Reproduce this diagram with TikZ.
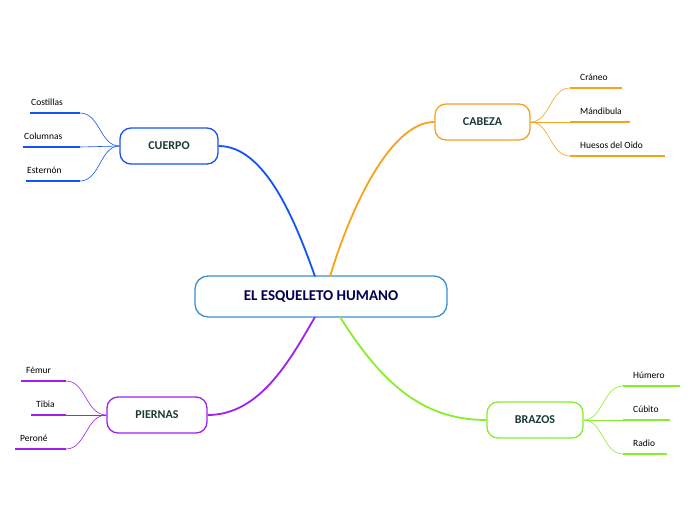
\documentclass[tikz,border=0pt]{standalone}
\usepackage{fontspec}
\setmainfont{Carlito}
\begin{document}
\begin{tikzpicture}[x=1pt,y=-1pt,
  main/.style={draw,line width=1.3pt,rounded corners=11pt,fill=white,font=\fontsize{12}{14}\selectfont\bfseries,text=textc,minimum height=36pt},
  leaf/.style={font=\fontsize{9.5}{11}\selectfont,anchor=base west,inner sep=0pt},
  link/.style={line width=1.8pt},
  thin/.style={line width=0.6pt},
  under/.style={line width=2pt}]
\definecolor{textc}{HTML}{1B3A36}
\definecolor{cb}{HTML}{1553F5}
\definecolor{co}{HTML}{F7A21B}
\definecolor{cp}{HTML}{A020F0}
\definecolor{cg}{HTML}{86EE2A}
\definecolor{cc}{HTML}{3C8FD0}
\useasboundingbox (0,0) rectangle (696,520);
% center
\node[main,draw=cc,minimum width=252pt,minimum height=41pt,rounded corners=13pt,text=black!20!blue!40!black,font=\fontsize{15}{17}\selectfont\bfseries] (c) at (321,296.5) {EL ESQUELETO HUMANO};
\coordinate (c1) at (315,276.5);
\coordinate (c2) at (330,276.5);
\coordinate (c3) at (315,317);
\coordinate (c4) at (340,317);
% main nodes
\node[main,draw=cb,minimum width=98pt] (cu) at (169,146) {CUERPO};
\node[main,draw=co,minimum width=95pt] (ca) at (482.5,122) {CABEZA};
\node[main,draw=cp,minimum width=100pt] (pi) at (157,415) {PIERNAS};
\node[main,draw=cg,minimum width=96pt] (br) at (535,420) {BRAZOS};
\begin{scope}[on background layer/.style={}]
\draw[link,cb] (cu.east) .. controls (265,146) and (295,220) .. (c1);
\draw[link,co] (ca.west) .. controls (390,122) and (350,210) .. (c2);
\draw[link,cp] (pi.east) .. controls (260,415) and (290,360) .. (c3);
\draw[link,cg] (br.west) .. controls (420,420) and (380,380) .. (c4);
\end{scope}
% CUERPO leaves
\foreach \n/\t/\y/\a in {l1/Costillas/113/30,l2/Columnas/147/23,l3/Esternón/181/26}{
  \coordinate (\n s) at (\a,\y); \coordinate (\n e) at (80,\y);
  \draw[under,cb] (\n s) -- (\n e);
  \node[leaf] at (\a+1,\y-8) {\t};
  \draw[thin,cb] (\n e) .. controls (100,\y) and (100,146) .. (cu.west);
}
% CABEZA leaves
\foreach \n/\t/\y/\b in {m1/Cráneo/88/622,m2/Mándibula/122/630,m3/Huesos del Oido/156/665}{
  \coordinate (\n s) at (570,\y); \coordinate (\n e) at (\b,\y);
  \draw[under,co] (\n s) -- (\n e);
  \node[leaf] at (580,\y-8) {\t};
  \draw[thin,co] (ca.east) .. controls (550,122) and (550,\y) .. (\n s);
}
% PIERNAS leaves
\foreach \n/\t/\y/\a in {p1/Fémur/381/21,p2/Tibia/415/31,p3/Peroné/449/15}{
  \coordinate (\n s) at (\a,\y); \coordinate (\n e) at (66,\y);
  \draw[under,cp] (\n s) -- (\n e);
  \node[leaf] at (\a+5,\y-8) {\t};
  \draw[thin,cp] (\n e) .. controls (86,\y) and (86,415) .. (pi.west);
}
% BRAZOS leaves
\foreach \n/\t/\y/\b in {b1/Húmero/386/680,b2/Cúbito/420/670,b3/Radio/454/667}{
  \coordinate (\n s) at (623,\y); \coordinate (\n e) at (\b,\y);
  \draw[under,cg] (\n s) -- (\n e);
  \node[leaf] at (633,\y-8) {\t};
  \draw[thin,cg] (br.east) .. controls (603,420) and (603,\y) .. (\n s);
}
\end{tikzpicture}
\end{document}
